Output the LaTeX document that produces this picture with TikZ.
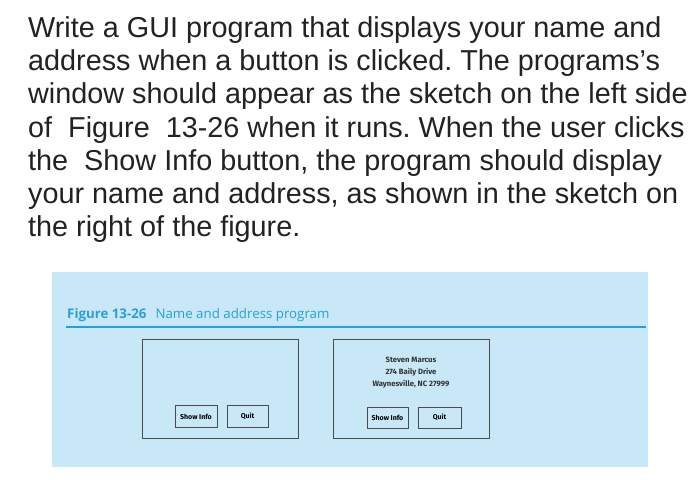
\documentclass[tikz,border=0pt]{standalone}
\usepackage{fontspec}
\setmainfont{Liberation Sans}
\newfontfamily\figfont{Open Sans}
\newfontfamily\handfont{Fira Sans}
\definecolor{panel}{HTML}{C8E8F8}
\definecolor{figblue}{HTML}{2A9FD6}
\definecolor{txt}{HTML}{222222}
\frenchspacing
\begin{document}
\begin{tikzpicture}[x=1pt,y=-1pt,
  qline/.style={anchor=west,inner sep=0pt,font=\fontsize{28.8}{28.8}\selectfont,text=txt},
  win/.style={draw=black!70,line width=0.7pt},
  btn/.style={draw=black!70,line width=0.6pt,inner sep=0pt,font=\handfont\bfseries\fontsize{7}{7}\selectfont},
  addr/.style={align=center,font=\handfont\bfseries\fontsize{7.7}{12}\selectfont,text=black!80}]
\useasboundingbox (0,0) rectangle (700,479);
\fill[white] (0,0) rectangle (700,479);
\node[qline] (l1) at (28,30) {Write a GUI program that displays your name and};
\node[qline] (l2) at (28,63.2) {address when a button is clicked. The programs's};
\node[qline] (l3) at (28,96.4) {window should appear as the sketch on the left side};
\node[qline] (l4) at (28,129.6) {of\ \ Figure\ \ 13-26 when it runs. When the user clicks};
\node[qline] (l5) at (28,162.8) {the\ \ Show Info button, the program should display};
\node[qline] (l6) at (28,196) {your name and address, as shown in the sketch on};
\node[qline] (l7) at (28,229.2) {the right of the figure.};
\fill[panel] (52,272) rectangle (648,467);
\node[anchor=west,inner sep=0pt,font=\figfont\fontsize{13.3}{13.3}\selectfont,text=figblue] (cap) at (67,315) {\textbf{Figure 13-26}\hspace{9pt}Name and address program};
\draw[figblue,line width=2pt] (66,327) -- (646,327);
\draw[win] (142,339) rectangle (298,438);
\node[btn,minimum width=42pt,minimum height=22pt] (s1) at (196,416.5) {Show Info};
\node[btn,minimum width=41pt,minimum height=22pt] (q1) at (247.5,416.5) {Quit};
\draw[win] (333,339) rectangle (489,438);
\node[addr] (a) at (411,373) {Steven Marcus\\274 Baily Drive\\Waynesville, NC 27999};
\node[btn,minimum width=41pt,minimum height=21pt] (s2) at (387.5,417.5) {Show Info};
\node[btn,minimum width=43pt,minimum height=21pt] (q2) at (439.5,417.5) {Quit};
\end{tikzpicture}
\end{document}
